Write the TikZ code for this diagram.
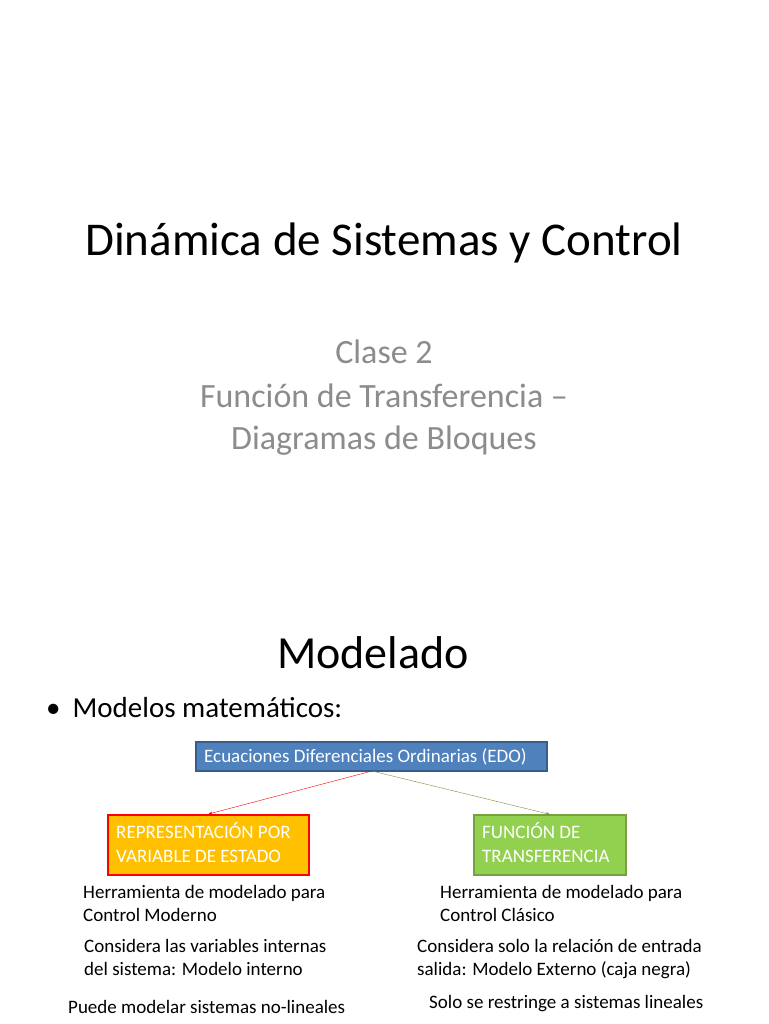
\documentclass[tikz,border=0pt]{standalone}
\usepackage{fontspec}
\setmainfont{Carlito}
\usetikzlibrary{arrows.meta}
\definecolor{edoblue}{HTML}{4F81BD}
\definecolor{edoborder}{HTML}{385D8A}
\definecolor{svorange}{HTML}{FFC000}
\definecolor{tfgreen}{HTML}{92D050}
\definecolor{tfborder}{HTML}{77A040}
\definecolor{subgray}{HTML}{8C8C8C}
\definecolor{olive}{HTML}{77933C}
\begin{document}
\begin{tikzpicture}[x=1pt,y=-1pt,
  body/.style={font=\fontsize{19}{23}\selectfont,anchor=north west,align=left,inner sep=0pt},
  boxtxt/.style={font=\fontsize{19}{24}\selectfont,text=white,align=left,anchor=north west,inner sep=0pt}]
\useasboundingbox (0,0) rectangle (768,1024);
\fill[white] (0,0) rectangle (768,1024);
\node[font=\fontsize{47}{56}\selectfont] (title) at (384,243) {Dinámica de Sistemas y Control};
\node[text=subgray,font=\fontsize{34}{40}\selectfont] (clase) at (384,352) {Clase 2};
\node[text=subgray,align=center,font=\fontsize{34}{42}\selectfont] (sub) at (384,420) {Función de Transferencia --\\Diagramas de Bloques};
\node[font=\fontsize{46}{54}\selectfont] (modelado) at (373,653) {Modelado};
\node[anchor=west,inner sep=0pt,font=\fontsize{29}{34}\selectfont] (bullet) at (46,708) {•\hspace{12pt}Modelos matemáticos:};
\node[draw=edoborder,line width=1.2pt,fill=edoblue,minimum width=351pt,minimum height=29pt,inner sep=0pt] (edo) at (371.5,756.5) {};
\node[text=white,anchor=west,inner sep=0pt,font=\fontsize{19}{22}\selectfont] at (204,756.5) {Ecuaciones Diferenciales Ordinarias (EDO)};
\node[draw=red,line width=2pt,fill=svorange,minimum width=201pt,minimum height=60pt,inner sep=0pt] (sv) at (208.5,845) {};
\node[boxtxt] at (116,822) {REPRESENTACIÓN POR\\VARIABLE DE ESTADO};
\node[draw=tfborder,line width=1.2pt,fill=tfgreen,minimum width=152pt,minimum height=60pt,inner sep=0pt] (tf) at (550,845) {};
\node[boxtxt] at (482,822) {FUNCIÓN DE\\TRANSFERENCIA};
\coordinate (edob) at (372,771);
\draw[red,-{Stealth[length=4pt,width=3pt]}] (edob) -- (sv.north);
\draw[olive,-{Stealth[length=4pt,width=3pt]}] (edob) -- (tf.north);
\node[body] (l1) at (83,885) {Herramienta de modelado para\\Control Moderno};
\node[body] (l2) at (84,939) {Considera las variables internas\\del sistema: Modelo interno};
\node[body] (l3) at (68,1000) {Puede modelar sistemas no-lineales};
\node[body] (r1) at (440,885) {Herramienta de modelado para\\Control Clásico};
\node[body] (r2) at (417,939) {Considera solo la relación de entrada\\salida: Modelo Externo (caja negra)};
\node[body] (r3) at (429,995) {Solo se restringe a sistemas lineales};
\end{tikzpicture}
\end{document}
